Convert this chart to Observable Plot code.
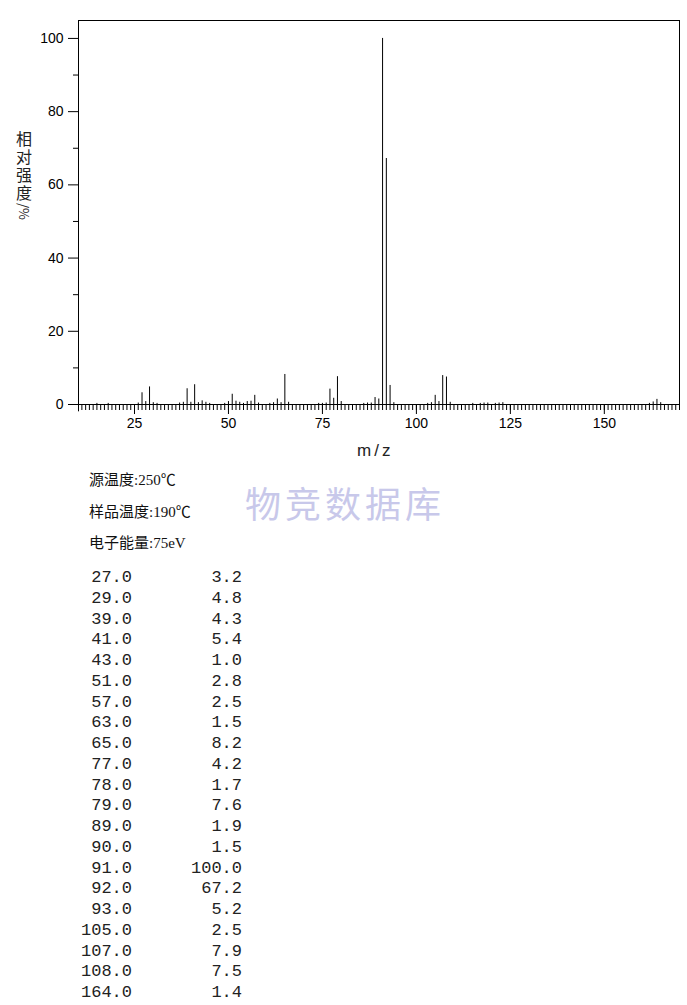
<!DOCTYPE html>
<html><head><meta charset="utf-8">
<script src="https://cdn.jsdelivr.net/npm/d3@7"></script>
<script src="https://cdn.jsdelivr.net/npm/@observablehq/plot@0.6"></script>
<style>
body{margin:0;background:#fff;}
#wrap{position:relative;width:687px;height:1005px;overflow:hidden;background:#fff;}
#chart{position:absolute;left:0;top:0;}
.abs{position:absolute;white-space:nowrap;}
.info{font-family:"Liberation Serif","Noto Sans CJK SC",serif;font-size:15px;color:#111;line-height:20px;}
.mono{font-family:"Liberation Mono","DejaVu Sans Mono",monospace;font-size:17px;color:#222;line-height:13px;}
</style></head><body><div id="wrap"><div id="chart"></div></div>
<script>
// Listed peaks (table)
const tableMz = [27, 29, 39, 41, 43, 51, 57, 63, 65, 77, 78, 79, 89, 90, 91, 92, 93, 105, 107, 108, 164];
const tableIntensity = [3.2, 4.8, 4.3, 5.4, 1.0, 2.8, 2.5, 1.5, 8.2, 4.2, 1.7, 7.6, 1.9, 1.5, 100.0, 67.2, 5.2, 2.5, 7.9, 7.5, 1.4];
// Small unlisted peaks visible in the spectrum (estimated)
const minorMz = [15, 18, 26, 28, 30, 31, 37, 38, 40, 42, 44, 45, 49, 50, 52, 53, 54, 55, 56, 58, 61, 62, 64, 66, 74, 75, 76, 80, 86, 87, 88, 94, 103, 104, 106, 109, 115, 117, 118, 119, 121, 122, 123, 162, 163, 165];
const minorIntensity = [0.3, 0.3, 0.4, 0.8, 0.5, 0.3, 0.4, 0.6, 0.6, 0.5, 0.6, 0.3, 0.3, 0.8, 0.9, 0.6, 0.3, 0.8, 0.9, 0.4, 0.3, 0.5, 0.5, 0.6, 0.3, 0.3, 0.4, 0.8, 0.3, 0.4, 0.4, 0.5, 0.3, 0.5, 0.8, 0.6, 0.3, 0.3, 0.4, 0.4, 0.3, 0.4, 0.5, 0.3, 0.7, 0.5];
// Axis ticks
const xMajor = [25, 50, 75, 100, 125, 150];
const xMinor = d3.range(11, 171, 1);
const yMajor = [0, 20, 40, 60, 80, 100];
const yMinor = [10, 30, 50, 70, 90];
// Texts
const yLabelChars = "相对强度";
const yLabelUnit = "/%";
const xLabel = "m/z";
const infoLines = ["源温度:250℃", "样品温度:190℃", "电子能量:75eV"];
const watermark = "物竞数据库";

const peaks = tableMz.map((m, i) => ({mz: m, v: tableIntensity[i]}))
  .concat(minorMz.map((m, i) => ({mz: m, v: minorIntensity[i]})));

const xDomain = [10.1, 170];
const yDomain = [0, 104.9];

const plot = Plot.plot({
  width: 687, height: 465,
  marginTop: 20, marginBottom: 61, marginLeft: 78, marginRight: 8,
  x: {domain: xDomain},
  y: {domain: yDomain},
  style: {fontFamily: "'Liberation Sans', Arial, sans-serif", fontSize: "14px", color: "#000", background: "#fff", overflow: "visible"},
  marks: [
    Plot.axisY({ticks: yMinor, tickSize: 5, tickFormat: () => "", label: null}),
    Plot.axisY({ticks: yMajor, tickSize: 10, tickPadding: 5, label: null}),
    Plot.axisX({ticks: xMinor, tickSize: 6, tickFormat: () => "", label: null}),
    Plot.axisX({ticks: xMajor, tickSize: 10, tickPadding: 4, label: null}),
    Plot.ruleX(peaks, {x: "mz", y1: 0, y2: "v", stroke: "#000", strokeWidth: 1}),
    Plot.frame({stroke: "#000", strokeWidth: 1}),
    Plot.ruleX([xDomain[0]], {y1: -2, y2: 0, stroke: "#000"})
  ]
});
document.getElementById("chart").appendChild(plot);

const wrap = document.getElementById("wrap");
function addDiv(text, cls, style) {
  const d = document.createElement("div");
  d.className = "abs " + (cls || "");
  d.textContent = text;
  Object.assign(d.style, style);
  wrap.appendChild(d);
  return d;
}
// vertical y label: upright CJK characters, then rotated "/%"
const yl = addDiv("", "", {left: "15px", top: "131px", writingMode: "vertical-rl", fontFamily: "'Noto Sans CJK SC', sans-serif", fontSize: "16px", letterSpacing: "2px", color: "#222", lineHeight: "18px"});
const s1 = document.createElement("span"); s1.textContent = yLabelChars; yl.appendChild(s1);
const s2 = document.createElement("span"); s2.textContent = yLabelUnit; s2.style.fontSize = "13px"; s2.style.letterSpacing = "0px"; yl.appendChild(s2);
addDiv(xLabel, "", {left: "357px", top: "441px", fontFamily: "'Liberation Sans', sans-serif", fontSize: "17px", letterSpacing: "3px", color: "#222"});
infoLines.forEach((t, i) => addDiv(t, "info", {left: "89px", top: (470 + 31.5 * i) + "px"}));
addDiv(watermark, "", {left: "245px", top: "480px", fontFamily: "'Noto Sans CJK SC', sans-serif", fontSize: "36px", letterSpacing: "4px", color: "#c8c8ea", lineHeight: "44px"});
tableMz.forEach((m, i) => {
  const top = (577 + 20.75 * i - 6) + "px";
  addDiv(m.toFixed(1), "mono", {right: (687 - 132) + "px", top});
  addDiv(tableIntensity[i].toFixed(1), "mono", {right: (687 - 242) + "px", top});
});
</script></body></html>
